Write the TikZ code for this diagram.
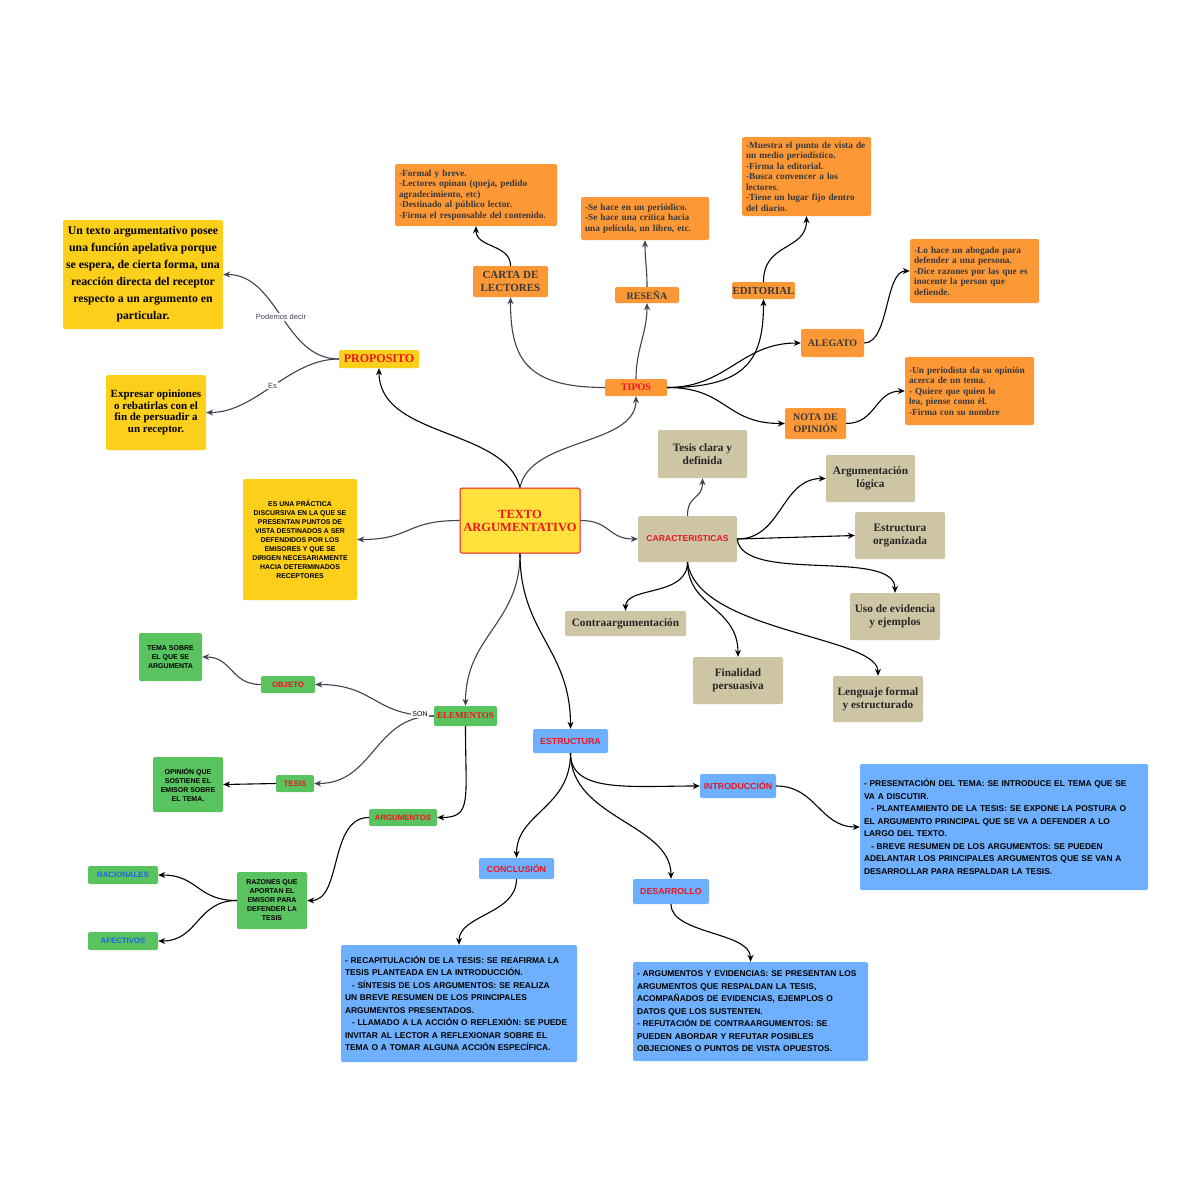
\documentclass[tikz,border=0pt]{standalone}
\usepackage{fontspec}
\setmainfont{Liberation Serif}
\newfontfamily\comic{Liberation Sans}
\usetikzlibrary{arrows.meta}
\definecolor{cgold}{HTML}{FCCF1B}
\definecolor{cyel}{HTML}{FFE23C}
\definecolor{corg}{HTML}{FD9837}
\definecolor{ctan}{HTML}{CEC5A5}
\definecolor{cgrn}{HTML}{58C35F}
\definecolor{cblu}{HTML}{6EB0FD}
\definecolor{crtx}{HTML}{F0141E}
\definecolor{cbtx}{HTML}{1E63F0}
\definecolor{cdtx}{HTML}{383838}
\definecolor{cedge}{HTML}{3D4350}
\begin{document}
\begin{tikzpicture}[x=1pt,y=-1pt,
  bx/.style={rounded corners=1.5pt, inner sep=0pt, align=center, anchor=center},
  goldbox/.style={bx, fill=cgold, font=\bfseries\fontsize{11.8}{17}\selectfont},
  orgbox/.style={bx, fill=corg, text=cdtx, font=\bfseries\fontsize{11}{13}\selectfont},
  orgtxt/.style={bx, fill=corg, text=cdtx, align=left, inner xsep=4pt, font=\bfseries\fontsize{9.3}{10.5}\selectfont},
  tanbox/.style={bx, fill=ctan, text=black!85, font=\bfseries\fontsize{11.3}{12.5}\selectfont},
  grnbox/.style={bx, fill=cgrn, font=\comic\bfseries\fontsize{7}{9}\selectfont},
  grnlbl/.style={bx, fill=cgrn, text=crtx, font=\comic\bfseries\fontsize{7.8}{9}\selectfont},
  blulbl/.style={bx, fill=cblu, text=crtx, font=\comic\bfseries\fontsize{8.8}{10}\selectfont},
  blutxt/.style={bx, fill=cblu, align=left, inner xsep=4pt, font=\comic\bfseries\fontsize{8.4}{12.5}\selectfont},
  elbl/.style={fill=white, inner sep=1pt, font=\comic\fontsize{7.5}{8}\selectfont},
  ar/.style={-{Stealth[length=7pt,width=6pt]}, line width=1.1pt, color=black},
  arg/.style={ar, color=cedge}]
\useasboundingbox[fill=white] (0,0) rectangle (1200,1200);

% ---------- Proposito branch
\node[goldbox, minimum width=160, minimum height=109] (ut) at (143,274.5)
  {Un texto argumentativo posee\\una función apelativa porque\\se espera, de cierta forma, una\\reacción directa del receptor\\respecto a un argumento en\\particular.};
\node[goldbox, minimum width=100, minimum height=75, font=\bfseries\fontsize{11}{11.5}\selectfont] (exp) at (156,412.5)
  {Expresar opiniones\\o rebatirlas con el\\fin de persuadir a\\un receptor.};
\node[bx, fill=cgold, text=crtx, font=\bfseries\fontsize{12}{13}\selectfont, minimum width=80, minimum height=18] (prop) at (379,359) {PROPOSITO};

% ---------- Tipos branch
\node[bx, fill=corg, text=crtx, font=\bfseries\fontsize{10}{12}\selectfont, minimum width=62, minimum height=17] (tipos) at (636,387.5) {TIPOS};
\node[orgbox, minimum width=75, minimum height=31] (carta) at (510.5,281.5) {CARTA DE\\LECTORES};
\node[orgtxt, text width=154, minimum height=62] (cartat) at (476,195)
  {-Formal y breve.\\-Lectores opinan (queja, pedido\\agradecimiento, etc)\\-Destinado al público lector.\\-Firma el responsable del contenido.};
\node[orgbox, font=\bfseries\fontsize{10}{12}\selectfont, minimum width=64, minimum height=16] (resena) at (647,295) {RESEÑA};
\node[orgtxt, text width=120, minimum height=43] (resenat) at (645,218.5)
  {-Se hace en un periódico.\\-Se hace una crítica hacia\\una película, un libro, etc.};
\node[orgbox, font=\bfseries\fontsize{10.8}{12}\selectfont, minimum width=63, minimum height=17] (edit) at (763.5,290.5) {EDITORIAL};
\node[orgtxt, text width=121, minimum height=79] (editt) at (806.5,176.5)
  {-Muestra el punto de vista de\\un medio periodístico.\\-Firma la editorial.\\-Busca convencer a los\\lectores.\\-Tiene un lugar fijo dentro\\del diario.};
\node[orgbox, font=\bfseries\fontsize{10}{12}\selectfont, minimum width=63, minimum height=28] (aleg) at (832.5,343) {ALEGATO};
\node[orgtxt, text width=121, minimum height=64] (alegt) at (974.5,271)
  {-Lo hace un abogado para\\defender a una persona.\\-Dice razones por las que es\\inocente la person que\\defiende.};
\node[orgbox, font=\bfseries\fontsize{10}{12}\selectfont, minimum width=61, minimum height=31] (nota) at (815.5,423.5) {NOTA DE\\OPINIÓN};
\node[orgtxt, text width=121, minimum height=68] (notat) at (969.5,391)
  {-Un periodista da su opinión\\acerca de un tema.\\- Quiere que quien lo\\lea, piense como él.\\-Firma con su nombre};

% ---------- Centre
\node[bx, fill=cyel, draw=crtx, line width=1pt, text=crtx, font=\bfseries\fontsize{12.5}{13}\selectfont, minimum width=120, minimum height=65] (texto) at (520,520.5) {TEXTO\\ARGUMENTATIVO};
\node[bx, fill=cgold, font=\comic\bfseries\fontsize{6.9}{9}\selectfont, minimum width=114, minimum height=121] (def) at (300,539.5)
  {ES UNA PRÁCTICA\\DISCURSIVA EN LA QUE SE\\PRESENTAN PUNTOS DE\\VISTA DESTINADOS A SER\\DEFENDIDOS POR LOS\\EMISORES Y QUE SE\\DIRIGEN NECESARIAMENTE\\HACIA DETERMINADOS\\RECEPTORES};

% ---------- Caracteristicas
\node[bx, fill=ctan, text=crtx, font=\comic\bfseries\fontsize{8.6}{9}\selectfont, minimum width=99, minimum height=46] (car) at (687.5,539) {CARACTERISTICAS};
\node[tanbox, minimum width=89, minimum height=48] (tes) at (702.5,454) {Tesis clara y\\definida};
\node[tanbox, minimum width=89, minimum height=47] (alog) at (870.5,478.5) {Argumentación\\lógica};
\node[tanbox, minimum width=90, minimum height=47] (eorg) at (900,535.5) {Estructura\\organizada};
\node[tanbox, minimum width=90, minimum height=47] (uso) at (895,616.5) {Uso de evidencia\\y ejemplos};
\node[tanbox, minimum width=121, minimum height=25] (contra) at (625.5,623.5) {Contraargumentación};
\node[tanbox, minimum width=90, minimum height=47] (fin) at (738,680.5) {Finalidad\\persuasiva};
\node[tanbox, minimum width=90, minimum height=46] (len) at (878,699) {Lenguaje formal\\y estructurado};

% ---------- Elementos
\node[bx, fill=cgrn, text=crtx, font=\bfseries\fontsize{9}{11}\selectfont, minimum width=63, minimum height=20] (elem) at (465.5,716) {ELEMENTOS};
\node[grnlbl, minimum width=54, minimum height=17] (obj) at (288,684.5) {OBJETO};
\node[grnbox, minimum width=63, minimum height=48] (tema) at (170.5,657) {TEMA SOBRE\\EL QUE SE\\ARGUMENTA};
\node[grnlbl, minimum width=38, minimum height=17] (tesis) at (295,783.5) {TESIS};
\node[grnbox, minimum width=70, minimum height=55] (opin) at (188,784.5) {OPINIÓN QUE\\SOSTIENE EL\\EMISOR SOBRE\\EL TEMA.};
\node[grnlbl, minimum width=68, minimum height=17] (args) at (403,817.5) {ARGUMENTOS};
\node[grnbox, minimum width=70, minimum height=57] (raz) at (272,900.5) {RAZONES QUE\\APORTAN EL\\EMISOR PARA\\DEFENDER LA\\TESIS};
\node[grnlbl, text=cbtx, minimum width=70, minimum height=18] (rac) at (123,875) {RACIONALES};
\node[grnlbl, text=cbtx, minimum width=70, minimum height=18] (afe) at (123,941) {AFECTIVOS};

% ---------- Estructura
\node[blulbl, minimum width=75, minimum height=24] (estr) at (570.5,741) {ESTRUCTURA};
\node[blulbl, minimum width=76, minimum height=24] (intro) at (738,786) {INTRODUCCIÓN};
\node[blutxt, text width=280, minimum height=126] (introt) at (1004,827)
  {- PRESENTACIÓN DEL TEMA: SE INTRODUCE EL TEMA QUE SE\\VA A DISCUTIR.\\\hspace*{7pt}- PLANTEAMIENTO DE LA TESIS: SE EXPONE LA POSTURA O\\EL ARGUMENTO PRINCIPAL QUE SE VA A DEFENDER A LO\\LARGO DEL TEXTO.\\\hspace*{7pt}- BREVE RESUMEN DE LOS ARGUMENTOS: SE PUEDEN\\ADELANTAR LOS PRINCIPALES ARGUMENTOS QUE SE VAN A\\DESARROLLAR PARA RESPALDAR LA TESIS.};
\node[blulbl, minimum width=75, minimum height=21] (concl) at (516.5,868.5) {CONCLUSIÓN};
\node[blutxt, text width=228, minimum height=117] (conclt) at (459,1003.5)
  {- RECAPITULACIÓN DE LA TESIS: SE REAFIRMA LA\\TESIS PLANTEADA EN LA INTRODUCCIÓN.\\\hspace*{7pt}- SÍNTESIS DE LOS ARGUMENTOS: SE REALIZA\\UN BREVE RESUMEN DE LOS PRINCIPALES\\ARGUMENTOS PRESENTADOS.\\\hspace*{7pt}- LLAMADO A LA ACCIÓN O REFLEXIÓN: SE PUEDE\\INVITAR AL LECTOR A REFLEXIONAR SOBRE EL\\TEMA O A TOMAR ALGUNA ACCIÓN ESPECÍFICA.};
\node[blulbl, minimum width=76, minimum height=25] (desa) at (671,891.5) {DESARROLLO};
\node[blutxt, text width=227, minimum height=99] (desat) at (750.5,1011.5)
  {- ARGUMENTOS Y EVIDENCIAS: SE PRESENTAN LOS\\ARGUMENTOS QUE RESPALDAN LA TESIS,\\ACOMPAÑADOS DE EVIDENCIAS, EJEMPLOS O\\DATOS QUE LOS SUSTENTEN.\\- REFUTACIÓN DE CONTRAARGUMENTOS: SE\\PUEDEN ABORDAR Y REFUTAR POSIBLES\\OBJECIONES O PUNTOS DE VISTA OPUESTOS.};

% ================= connectors
% proposito
\draw[arg] (prop.west) .. controls +(-55,0) and +(55,0) .. node[elbl, pos=0.5]{Podemos decir} (ut.east);
\draw[arg] (prop.west) .. controls +(-50,0) and +(50,0) .. node[elbl, pos=0.5]{Es} (exp.east);
\draw[ar] (texto.north) .. controls +(-15,-60) and +(0,70) .. (prop.south);
\draw[arg] (texto.north) .. controls +(10,-50) and +(0,50) .. (tipos.south);
% tipos
\draw[arg] (tipos.west) .. controls +(-80,0) and +(0,60) .. (carta.south);
\draw[arg] (tipos.north) .. controls +(0,-30) and +(0,30) .. (resena.south);
\draw[ar] (tipos.east) .. controls +(80,0) and +(0,60) .. (edit.south);
\draw[ar] (tipos.east) .. controls +(60,0) and +(-60,0) .. (aleg.west);
\draw[ar] (tipos.east) .. controls +(60,0) and +(-60,0) .. (nota.west);
\draw[ar] (carta.north) .. controls +(0,-22) and +(0,22) .. (cartat.south);
\draw[arg] (resena.north) .. controls +(0,-20) and +(0,20) .. (resenat.south);
\draw[ar] (edit.north) .. controls +(0,-40) and +(0,35) .. (editt.south);
\draw[ar] (aleg.east) .. controls +(25,0) and +(-25,0) .. (alegt.west);
\draw[ar] (nota.east) .. controls +(30,0) and +(-30,0) .. (notat.west);
% centre
\draw[arg] (texto.west) .. controls +(-55,0) and +(55,0) .. (def.east);
\draw[arg] (texto.east) .. controls +(30,0) and +(-30,0) .. (car.west);
% caracteristicas
\draw[arg] (car.north) .. controls +(0,-22) and +(0,22) .. (tes.south);
\draw[ar] (car.east) .. controls +(45,0) and +(-45,0) .. (alog.west);
\draw[ar] (car.east) -- (eorg.west);
\draw[ar] (car.east) .. controls +(5,45) and +(0,-45) .. (uso.north);
\draw[ar] (car.south) .. controls +(0,35) and +(0,-25) .. (contra.north);
\draw[ar] (car.south) .. controls +(0,45) and +(0,-50) .. (fin.north);
\draw[ar] (car.south) .. controls +(10,70) and +(0,-40) .. (len.north);
% elementos
\draw[arg] (texto.south) .. controls +(0,70) and +(0,-70) .. (elem.north);
\draw[ar] (texto.south) .. controls +(0,80) and +(0,-80) .. (estr.north);
\draw[arg] (elem.west) .. controls +(-60,0) and +(60,0) .. (obj.east);
\draw[arg] (elem.west) .. controls +(-60,0) and +(60,0) .. (tesis.east);
\node[elbl, font=\comic\fontsize{7}{8}\selectfont] (son) at (420,714.5) {SON};
\draw[ar] (elem.south) .. controls +(0,75) and +(35,0) .. (args.east);
\draw[arg] (obj.west) .. controls +(-30,0) and +(30,0) .. (tema.east);
\draw[ar] (tesis.west) -- (opin.east);
\draw[ar] (args.west) .. controls +(-40,0) and +(35,0) .. (raz.east);
\draw[ar] (raz.west) .. controls +(-40,0) and +(40,0) .. (rac.east);
\draw[ar] (raz.west) .. controls +(-40,0) and +(40,0) .. (afe.east);
% estructura
\draw[ar] (estr.south) .. controls +(0,40) and +(-70,0) .. (intro.west);
\draw[ar] (estr.south) .. controls +(0,55) and +(0,-45) .. (concl.north);
\draw[ar] (estr.south) .. controls +(0,65) and +(0,-55) .. (desa.north);
\draw[ar] (intro.east) .. controls +(40,0) and +(-40,0) .. (introt.west);
\draw[ar] (concl.south) .. controls +(0,35) and +(0,-30) .. (conclt.north);
\draw[ar] (desa.south) .. controls +(0,30) and +(0,-30) .. (desat.north);
\end{tikzpicture}
\end{document}
